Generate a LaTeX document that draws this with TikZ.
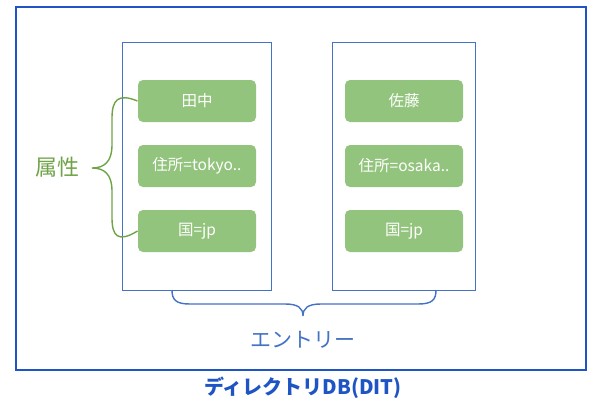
\documentclass[tikz,border=0pt]{standalone}
\usepackage{fontspec}
\setmainfont{Noto Sans CJK JP}
\definecolor{dbblue}{RGB}{30,84,196}
\definecolor{entryblue}{RGB}{68,114,196}
\definecolor{attrgreen}{RGB}{147,196,125}
\definecolor{bracegreen}{RGB}{112,163,72}
\tikzstyle{every path}=[line width=1pt]
\tikzstyle{attr}=[draw=none, fill=attrgreen, rounded corners=5pt, minimum width=118pt,
  minimum height=42pt, text=white, font=\fontsize{15.5}{15.5}\selectfont]
\begin{document}
\begin{tikzpicture}[x=1pt, y=-1pt]
  \useasboundingbox (0,0) rectangle (603,408);
  \draw[dbblue, line width=2pt] (16,7) rectangle (586,370);
  \node[text=dbblue, font=\bfseries\fontsize{20}{20}\selectfont] (title) at (303,388) {ディレクトリDB(DIT)};

  \draw[entryblue] (122,42) rectangle (271,290);
  \draw[entryblue] (332,42) rectangle (475,290);

  \node[attr] (tanaka) at (197,101) {田中};
  \node[attr] (addr1) at (197,166) {住所=tokyo..};
  \node[attr] (country1) at (197,231) {国=jp};
  \node[attr] (sato) at (404,101) {佐藤};
  \node[attr] (addr2) at (404,166) {住所=osaka..};
  \node[attr] (country2) at (404,231) {国=jp};

  % attribute brace
  \draw[bracegreen, line width=1.4pt] (tanaka.west) .. controls (118,93) and (112,100) .. (112,118)
    -- (112,145) .. controls (112,162) and (104,168) .. (92,168)
    .. controls (104,168) and (112,174) .. (112,191) -- (112,218)
    .. controls (112,236) and (118,243) .. (country1.west);
  \node[text=bracegreen, font=\fontsize{22}{22}\selectfont] (attrs) at (57,167) {属性};

  % entry brace
  \draw[entryblue, line width=1.4pt] (172,290) .. controls (172,300) and (176,304) .. (190,304)
    -- (285,304) .. controls (298,304) and (303,308) .. (303,316)
    .. controls (303,308) and (308,304) .. (321,304) -- (418,304)
    .. controls (432,304) and (436,300) .. (436,290);
  \node[text=entryblue, font=\fontsize{21}{21}\selectfont] (entry) at (303,340) {エントリー};
\end{tikzpicture}
\end{document}
